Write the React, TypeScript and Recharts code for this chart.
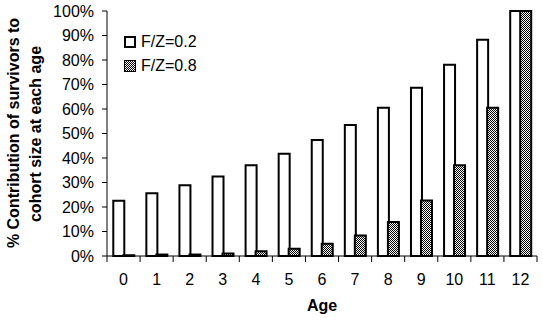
import React from 'react';
import { BarChart, Bar, XAxis, YAxis, Label } from 'recharts';

const ages = ['0', '1', '2', '3', '4', '5', '6', '7', '8', '9', '10', '11', '12'];
const fz02 = [22.6, 25.6, 28.9, 32.4, 37.0, 41.7, 47.3, 53.5, 60.5, 68.7, 78.1, 88.3, 100];
const fz08 = [0.3, 0.6, 0.6, 1.0, 1.9, 3.0, 5.0, 8.4, 13.9, 22.7, 37.0, 60.5, 100];
const yTicks = [0, 10, 20, 30, 40, 50, 60, 70, 80, 90, 100];

const data = ages.map((age, i) => ({ age, low: fz02[i], high: fz08[i] }));

const FONT = 'Arial, "Liberation Sans", sans-serif';
const PLOT_W = 430;
const STEP = PLOT_W / ages.length;

// ticks sit between categories, labels at the centre
const AgeTick = (props: any) => {
  const { x, y, payload, index } = props;
  const left = x - STEP / 2;
  return (
    <g>
      <line x1={left} y1={y} x2={left} y2={y + 6} stroke="#000" strokeWidth={1} />
      {index === ages.length - 1 && (
        <line x1={left + STEP} y1={y} x2={left + STEP} y2={y + 6} stroke="#000" strokeWidth={1} />
      )}
      <text x={x} y={y + 29} textAnchor="middle" fontSize={16} fontFamily={FONT} fill="#000">
        {payload.value}
      </text>
    </g>
  );
};

const YLabel = () => (
  <g fontFamily={FONT} fontWeight="bold" fontSize={16} fill="#000">
    <text x={0} y={0} textAnchor="middle" transform="translate(19,133) rotate(-90)">
      % Contribution of survivors to
    </text>
    <text x={0} y={0} textAnchor="middle" transform="translate(41,134) rotate(-90)">
      cohort size at each age
    </text>
  </g>
);

const LegendBox = () => (
  <div
    style={{
      position: 'absolute',
      left: 123,
      top: 30,
      fontFamily: FONT,
      fontSize: 16,
      color: '#000',
      lineHeight: '24px',
    }}
  >
    <div style={{ display: 'flex', alignItems: 'center' }}>
      <svg width={18} height={12}>
        <rect x={2} y={1} width={10} height={10} fill="#fff" stroke="#000" strokeWidth={2} />
      </svg>
      <span>F/Z=0.2</span>
    </div>
    <div style={{ display: 'flex', alignItems: 'center' }}>
      <svg width={18} height={12}>
        <defs>
          <pattern id="checkL" width={2} height={2} patternUnits="userSpaceOnUse">
            <rect width={2} height={2} fill="#fff" />
            <rect width={1} height={1} fill="#000" />
            <rect x={1} y={1} width={1} height={1} fill="#000" />
          </pattern>
        </defs>
        <rect x={1.5} y={0.5} width={11} height={11} fill="url(#checkL)" stroke="#000" strokeWidth={1} />
      </svg>
      <span>F/Z=0.8</span>
    </div>
  </div>
);

export default function App() {
  return (
    <div style={{ position: 'absolute', left: 0, top: 0, width: 543, height: 320, background: '#fff' }}>
      <BarChart
        width={543}
        height={320}
        data={data}
        margin={{ top: 11, right: 6, left: 57, bottom: 0 }}
        barCategoryGap="19%"
        barGap={-1}
      >
        <defs>
          <pattern id="check" width={2} height={2} patternUnits="userSpaceOnUse">
            <rect width={2} height={2} fill="#fff" />
            <rect width={1} height={1} fill="#000" />
            <rect x={1} y={1} width={1} height={1} fill="#000" />
          </pattern>
        </defs>
        <XAxis
          dataKey="age"
          height={64}
          tickLine={false}
          tickSize={0}
          tickMargin={0}
          axisLine={{ stroke: '#000' }}
          tick={<AgeTick />}
          interval={0}
        >
          <Label
            value="Age"
            position="insideBottom"
            offset={9}
            style={{ fontFamily: FONT, fontWeight: 'bold', fontSize: 16, fill: '#000' }}
          />
        </XAxis>
        <YAxis
          width={50}
          domain={[0, 100]}
          ticks={yTicks}
          interval={0}
          tickFormatter={(v: number) => `${v}%`}
          tickSize={5}
          tickMargin={8}
          tickLine={{ stroke: '#000' }}
          axisLine={{ stroke: '#000' }}
          tick={{ fontFamily: FONT, fontSize: 16, fill: '#000' }}
        >
          <Label content={<YLabel />} />
        </YAxis>
        <Bar dataKey="low" fill="#fff" stroke="#000" strokeWidth={2} isAnimationActive={false} />
        <Bar dataKey="high" fill="url(#check)" stroke="#000" strokeWidth={2} isAnimationActive={false} />
      </BarChart>
      <LegendBox />
    </div>
  );
}
